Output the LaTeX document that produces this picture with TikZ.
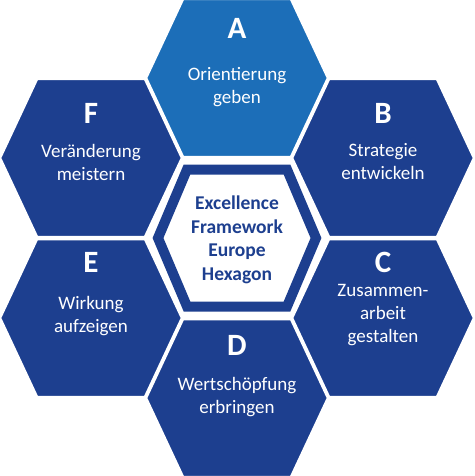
\documentclass[tikz,border=0pt]{standalone}
\usepackage{fontspec}
\setmainfont{Carlito}
\usepackage{xcolor}
\definecolor{HexNavy}{HTML}{1D3F8F}
\definecolor{HexBlue}{HTML}{1C6EB8}
\usepackage{tikz}
\usetikzlibrary{positioning,calc}

\begin{document}
\begin{tikzpicture}[
  x=1pt,y=-1pt,
  cell/.style={draw=white,line width=2.5pt,line join=miter},
  ring/.style={draw=HexNavy,fill=white,line width=10pt,line join=miter},
  hexletter/.style={font=\fontsize{31}{31}\selectfont\bfseries,text=white,inner sep=0pt},
  hextext/.style={font=\fontsize{19}{23}\selectfont,text=white,align=center,inner sep=0pt},
  coretext/.style={font=\fontsize{19.5}{23.5}\selectfont\bfseries,text=HexNavy,align=center,inner sep=0pt}
]
\useasboundingbox (0,0) rectangle (474,476);

% cell centres
\coordinate (hexA) at (237,78);
\coordinate (hexB) at (383,158);
\coordinate (hexC) at (383,318);
\coordinate (hexD) at (237,398);
\coordinate (hexE) at (91,318);
\coordinate (hexF) at (91,158);
\coordinate (hexO) at (237,238);

% outer cells
\filldraw[cell,fill=HexBlue] (hexA) +(-91,0) -- +(-54,-79) -- +(54,-79) -- +(91,0) -- +(54,79) -- +(-54,79) -- cycle;
\filldraw[cell,fill=HexNavy] (hexB) +(-91,0) -- +(-54,-79) -- +(54,-79) -- +(91,0) -- +(54,79) -- +(-54,79) -- cycle;
\filldraw[cell,fill=HexNavy] (hexC) +(-91,0) -- +(-54,-79) -- +(54,-79) -- +(91,0) -- +(54,79) -- +(-54,79) -- cycle;
\filldraw[cell,fill=HexNavy] (hexD) +(-91,0) -- +(-54,-79) -- +(54,-79) -- +(91,0) -- +(54,79) -- +(-54,79) -- cycle;
\filldraw[cell,fill=HexNavy] (hexE) +(-91,0) -- +(-54,-79) -- +(54,-79) -- +(91,0) -- +(54,79) -- +(-54,79) -- cycle;
\filldraw[cell,fill=HexNavy] (hexF) +(-91,0) -- +(-54,-79) -- +(54,-79) -- +(91,0) -- +(54,79) -- +(-54,79) -- cycle;

% centre cell
\filldraw[ring] (hexO) +(-79,0) -- +(-50,-68.5) -- +(50,-68.5) -- +(79,0) -- +(50,68.5) -- +(-50,68.5) -- cycle;
\node[coretext] (core) at (237,240) {Excellence\\Framework\\Europe\\Hexagon};

\node[hexletter] (letA) at (237,28) {A};
\node[hextext] (txtA) at (237,87) {Orientierung\\geben};
\node[hexletter] (letB) at (383,113) {B};
\node[hextext] (txtB) at (383,162) {Strategie\\entwickeln};
\node[hexletter] (letC) at (383,262) {C};
\node[hextext] (txtC) at (383,315) {Zusammen-\\arbeit\\gestalten};
\node[hexletter] (letD) at (237,345) {D};
\node[hextext] (txtD) at (237,397) {Wertschöpfung\\erbringen};
\node[hexletter] (letE) at (91,262) {E};
\node[hextext] (txtE) at (91,316) {Wirkung\\aufzeigen};
\node[hexletter] (letF) at (91,113) {F};
\node[hextext] (txtF) at (91,162) {Veränderung\\meistern};
\end{tikzpicture}
\end{document}
